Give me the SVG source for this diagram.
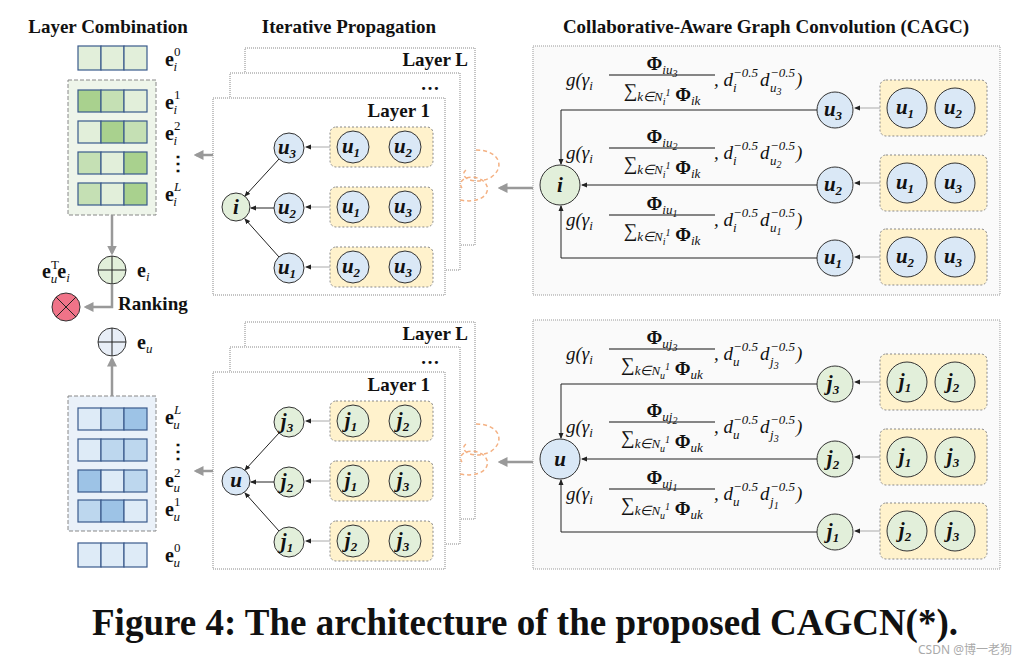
<svg xmlns="http://www.w3.org/2000/svg" width="1025" height="657" viewBox="0 0 1025 657">
<style>
.t{font-family:"Liberation Serif",serif;font-weight:bold;font-size:19px;fill:#111}
.f{font-family:"Liberation Serif",serif;font-style:italic;font-size:19px;fill:#111}
.s{font-size:13px}
.ss{font-size:10px}
.nl{font-family:"Liberation Serif",serif;font-style:italic;font-weight:bold;font-size:21px;text-anchor:middle;fill:#111}
.el{font-family:"Liberation Serif",serif;font-weight:bold;font-size:20px;fill:#111}
.gn{fill:#e2efda;stroke:#333;stroke-width:1}
.bn{fill:#dae8f6;stroke:#333;stroke-width:1}
.yb{fill:#fff2cc;stroke:#888;stroke-width:1;stroke-dasharray:2 2}
.fr{fill:#fff;stroke:#888;stroke-width:1;stroke-dasharray:1 1}
.pn{fill:#fafafa;stroke:#999;stroke-width:1;stroke-dasharray:1 1}
.bar{stroke:#3a5a8c;stroke-width:1.2}
.L{fill:#e2efda}.M{fill:#c5e0b4}.D{fill:#a9d18e}
.l{fill:#deebf7}.m{fill:#bdd7ee}.d{fill:#9dc3e6}
.k{stroke:#222;stroke-width:1;fill:none}
.g{stroke:#999;stroke-width:2.5;fill:none}
.gt{stroke:#aaa;stroke-width:1;fill:none}
.or{stroke:#f4b183;stroke-width:1.5;stroke-dasharray:4 3;fill:none}
.sup{font-size:13px;font-weight:normal}
.sub{font-size:13px;font-weight:normal;font-style:italic}
</style>
<defs>
<marker id="ak" markerWidth="6" markerHeight="6" refX="5" refY="3" orient="auto"><path d="M0,0.5L6,3L0,5.5z" fill="#222"/></marker>
<marker id="ag" markerWidth="4" markerHeight="4" refX="3" refY="2" orient="auto"><path d="M0,0L4,2L0,4z" fill="#999"/></marker>
</defs>
<rect width="1025" height="657" fill="#fff"/>
<text class="t" x="108" y="33" text-anchor="middle">Layer Combination</text>
<text class="t" x="349" y="33" text-anchor="middle">Iterative Propagation</text>
<text class="t" x="766" y="33" text-anchor="middle">Collaborative-Aware Graph Convolution (CAGC)</text>

<g id="ei-bars">
<rect x="78" y="46" width="23" height="24" class="bar L"/><rect x="101" y="46" width="23" height="24" class="bar L"/><rect x="124" y="46" width="23" height="24" class="bar L"/>
<rect x="68" y="80" width="88" height="135" fill="#eef5ea" stroke="#888" stroke-dasharray="4 2"/>
<rect x="78" y="90" width="23" height="22" class="bar D"/><rect x="101" y="90" width="23" height="22" class="bar M"/><rect x="124" y="90" width="23" height="22" class="bar L"/>
<rect x="78" y="121" width="23" height="22" class="bar L"/><rect x="101" y="121" width="23" height="22" class="bar D"/><rect x="124" y="121" width="23" height="22" class="bar M"/>
<rect x="78" y="152" width="23" height="22" class="bar M"/><rect x="101" y="152" width="23" height="22" class="bar L"/><rect x="124" y="152" width="23" height="22" class="bar D"/>
<rect x="78" y="183" width="23" height="22" class="bar M"/><rect x="101" y="183" width="23" height="22" class="bar L"/><rect x="124" y="183" width="23" height="22" class="bar D"/>
<text class="el" x="165" y="66">e<tspan class="sup" dx="0" dy="-10">0</tspan><tspan class="sub" dx="-7" dy="15">i</tspan></text>
<text class="el" x="165" y="109">e<tspan class="sup" dy="-10">1</tspan><tspan class="sub" dx="-7" dy="15">i</tspan></text>
<text class="el" x="165" y="140">e<tspan class="sup" dy="-10">2</tspan><tspan class="sub" dx="-7" dy="15">i</tspan></text>
<text class="el" x="168" y="170">⋮</text>
<text class="el" x="165" y="201">e<tspan class="sub" dy="-10">L</tspan><tspan class="sub" dx="-8" dy="15">i</tspan></text>
</g>
<g id="eu-bars">
<rect x="68" y="396" width="88" height="135" fill="#eaf1f9" stroke="#888" stroke-dasharray="4 2"/>
<rect x="78" y="408" width="23" height="22" class="bar l"/><rect x="101" y="408" width="23" height="22" class="bar m"/><rect x="124" y="408" width="23" height="22" class="bar d"/>
<rect x="78" y="439" width="23" height="22" class="bar l"/><rect x="101" y="439" width="23" height="22" class="bar m"/><rect x="124" y="439" width="23" height="22" class="bar m"/>
<rect x="78" y="470" width="23" height="22" class="bar d"/><rect x="101" y="470" width="23" height="22" class="bar l"/><rect x="124" y="470" width="23" height="22" class="bar m"/>
<rect x="78" y="500" width="23" height="22" class="bar m"/><rect x="101" y="500" width="23" height="22" class="bar d"/><rect x="124" y="500" width="23" height="22" class="bar l"/>
<rect x="78" y="543" width="23" height="24" class="bar l"/><rect x="101" y="543" width="23" height="24" class="bar l"/><rect x="124" y="543" width="23" height="24" class="bar l"/>
<text class="el" x="165" y="424">e<tspan class="sub" dy="-10">L</tspan><tspan class="sub" dx="-8" dy="15">u</tspan></text>
<text class="el" x="168" y="458">⋮</text>
<text class="el" x="165" y="487">e<tspan class="sup" dy="-10">2</tspan><tspan class="sub" dx="-7" dy="15">u</tspan></text>
<text class="el" x="165" y="516">e<tspan class="sup" dy="-10">1</tspan><tspan class="sub" dx="-7" dy="15">u</tspan></text>
<text class="el" x="165" y="562">e<tspan class="sup" dy="-10">0</tspan><tspan class="sub" dx="-7" dy="15">u</tspan></text>
</g>
<g id="sum-i"><circle cx="112" cy="270" r="14" fill="#e2efda" stroke="#333"/><path d="M98,270H126M112,256V284" class="k"/><text class="el" x="137" y="277">e<tspan class="sub" dy="4">i</tspan></text></g>
<g id="sum-u"><circle cx="112" cy="342" r="14" fill="#e8eef7" stroke="#333"/><path d="M98,342H126M112,328V356" class="k"/><text class="el" x="137" y="349">e<tspan class="sub" dy="4">u</tspan></text></g>
<g id="rank"><circle cx="66" cy="307" r="14" fill="#f07388" stroke="#333"/><path d="M56,297L76,317M76,297L56,317" class="k"/>
<text class="el" x="42" y="278">e<tspan class="sup" dy="-9">T</tspan><tspan class="sub" dx="-8" dy="14">u</tspan><tspan dy="-5">e</tspan><tspan class="sub" dy="4">i</tspan></text>
<text class="t" x="118" y="310">Ranking</text></g>

<g id="prop-top">
<rect x="245" y="48" width="230" height="197" class="fr" fill="#fcfcfc"/>
<rect x="230" y="73" width="230" height="197" class="fr" fill="#fcfcfc"/>
<rect x="213" y="98" width="232" height="197" class="fr"/>
<text class="t" x="468" y="66" text-anchor="end">Layer L</text>
<text class="t" x="430" y="90" text-anchor="middle">…</text>
<text class="t" x="430" y="117" text-anchor="end">Layer 1</text>
<rect x="330" y="127" width="103" height="40" rx="6" class="yb"/>
<rect x="330" y="187" width="103" height="40" rx="6" class="yb"/>
<rect x="330" y="247" width="103" height="40" rx="6" class="yb"/>
<circle cx="236" cy="207" r="14" class="gn"/><text class="nl" x="236" y="214">i</text>
<circle cx="289" cy="148" r="15" class="bn"/><text class="nl" x="287" y="154">u<tspan class="s" dy="4">3</tspan></text>
<circle cx="289" cy="208" r="15" class="bn"/><text class="nl" x="287" y="214">u<tspan class="s" dy="4">2</tspan></text>
<circle cx="289" cy="268" r="15" class="bn"/><text class="nl" x="287" y="274">u<tspan class="s" dy="4">1</tspan></text>
<circle cx="353" cy="147" r="16" class="bn"/><text class="nl" x="351" y="153">u<tspan class="s" dy="4">1</tspan></text>
<circle cx="405" cy="147" r="16" class="bn"/><text class="nl" x="403" y="153">u<tspan class="s" dy="4">2</tspan></text>
<circle cx="353" cy="207" r="16" class="bn"/><text class="nl" x="351" y="213">u<tspan class="s" dy="4">1</tspan></text>
<circle cx="405" cy="207" r="16" class="bn"/><text class="nl" x="403" y="213">u<tspan class="s" dy="4">3</tspan></text>
<circle cx="353" cy="267" r="16" class="bn"/><text class="nl" x="351" y="273">u<tspan class="s" dy="4">2</tspan></text>
<circle cx="405" cy="267" r="16" class="bn"/><text class="nl" x="403" y="273">u<tspan class="s" dy="4">3</tspan></text>
</g>
<g id="prop-bottom">
<rect x="245" y="322" width="230" height="197" class="fr" fill="#fcfcfc"/>
<rect x="230" y="347" width="230" height="197" class="fr" fill="#fcfcfc"/>
<rect x="213" y="372" width="232" height="197" class="fr"/>
<text class="t" x="468" y="340" text-anchor="end">Layer L</text>
<text class="t" x="430" y="364" text-anchor="middle">…</text>
<text class="t" x="430" y="391" text-anchor="end">Layer 1</text>
<rect x="330" y="401" width="103" height="40" rx="6" class="yb"/>
<rect x="330" y="461" width="103" height="40" rx="6" class="yb"/>
<rect x="330" y="521" width="103" height="40" rx="6" class="yb"/>
<circle cx="236" cy="481" r="14" class="bn"/><text class="nl" x="236" y="487">u</text>
<circle cx="289" cy="422" r="15" class="gn"/><text class="nl" x="287" y="428">j<tspan class="s" dy="4">3</tspan></text>
<circle cx="289" cy="482" r="15" class="gn"/><text class="nl" x="287" y="488">j<tspan class="s" dy="4">2</tspan></text>
<circle cx="289" cy="542" r="15" class="gn"/><text class="nl" x="287" y="548">j<tspan class="s" dy="4">1</tspan></text>
<circle cx="353" cy="421" r="16" class="gn"/><text class="nl" x="351" y="427">j<tspan class="s" dy="4">1</tspan></text>
<circle cx="405" cy="421" r="16" class="gn"/><text class="nl" x="403" y="427">j<tspan class="s" dy="4">2</tspan></text>
<circle cx="353" cy="481" r="16" class="gn"/><text class="nl" x="351" y="487">j<tspan class="s" dy="4">1</tspan></text>
<circle cx="405" cy="481" r="16" class="gn"/><text class="nl" x="403" y="487">j<tspan class="s" dy="4">3</tspan></text>
<circle cx="353" cy="541" r="16" class="gn"/><text class="nl" x="351" y="547">j<tspan class="s" dy="4">2</tspan></text>
<circle cx="405" cy="541" r="16" class="gn"/><text class="nl" x="403" y="547">j<tspan class="s" dy="4">3</tspan></text>
</g>

<g id="cagc-top">
<rect x="533" y="46" width="467" height="249" class="pn"/>
<rect x="880" y="80" width="107" height="56" rx="6" class="yb"/>
<rect x="880" y="155" width="107" height="56" rx="6" class="yb"/>
<rect x="880" y="229" width="107" height="56" rx="6" class="yb"/>
<circle cx="560" cy="185" r="20" class="gn"/><text class="nl" x="560" y="192">i</text>
<circle cx="835" cy="110" r="18" class="bn"/><text class="nl" x="833" y="116">u<tspan class="s" dy="4">3</tspan></text>
<circle cx="835" cy="185" r="18" class="bn"/><text class="nl" x="833" y="191">u<tspan class="s" dy="4">2</tspan></text>
<circle cx="835" cy="258" r="18" class="bn"/><text class="nl" x="833" y="264">u<tspan class="s" dy="4">1</tspan></text>
<circle cx="907" cy="108" r="20" class="bn"/><text class="nl" x="905" y="114">u<tspan class="s" dy="4">1</tspan></text>
<circle cx="955" cy="108" r="20" class="bn"/><text class="nl" x="953" y="114">u<tspan class="s" dy="4">2</tspan></text>
<circle cx="907" cy="183" r="20" class="bn"/><text class="nl" x="905" y="189">u<tspan class="s" dy="4">1</tspan></text>
<circle cx="955" cy="183" r="20" class="bn"/><text class="nl" x="953" y="189">u<tspan class="s" dy="4">3</tspan></text>
<circle cx="907" cy="257" r="20" class="bn"/><text class="nl" x="905" y="263">u<tspan class="s" dy="4">2</tspan></text>
<circle cx="955" cy="257" r="20" class="bn"/><text class="nl" x="953" y="263">u<tspan class="s" dy="4">3</tspan></text>
</g>
<g id="cagc-bottom">
<rect x="533" y="320" width="467" height="249" class="pn"/>
<rect x="880" y="354" width="107" height="56" rx="6" class="yb"/>
<rect x="880" y="429" width="107" height="56" rx="6" class="yb"/>
<rect x="880" y="503" width="107" height="56" rx="6" class="yb"/>
<circle cx="560" cy="459" r="20" class="bn"/><text class="nl" x="560" y="466">u</text>
<circle cx="835" cy="384" r="18" class="gn"/><text class="nl" x="833" y="390">j<tspan class="s" dy="4">3</tspan></text>
<circle cx="835" cy="459" r="18" class="gn"/><text class="nl" x="833" y="465">j<tspan class="s" dy="4">2</tspan></text>
<circle cx="835" cy="532" r="18" class="gn"/><text class="nl" x="833" y="538">j<tspan class="s" dy="4">1</tspan></text>
<circle cx="907" cy="382" r="20" class="gn"/><text class="nl" x="905" y="388">j<tspan class="s" dy="4">1</tspan></text>
<circle cx="955" cy="382" r="20" class="gn"/><text class="nl" x="953" y="388">j<tspan class="s" dy="4">2</tspan></text>
<circle cx="907" cy="457" r="20" class="gn"/><text class="nl" x="905" y="463">j<tspan class="s" dy="4">1</tspan></text>
<circle cx="955" cy="457" r="20" class="gn"/><text class="nl" x="953" y="463">j<tspan class="s" dy="4">3</tspan></text>
<circle cx="907" cy="531" r="20" class="gn"/><text class="nl" x="905" y="537">j<tspan class="s" dy="4">2</tspan></text>
<circle cx="955" cy="531" r="20" class="gn"/><text class="nl" x="953" y="537">j<tspan class="s" dy="4">3</tspan></text>
</g>

<g id="formulas" class="f">
<text x="566" y="86">g(γ<tspan class="s" dy="4">i</tspan></text>
<text x="662" y="70" text-anchor="middle"><tspan font-weight="bold" font-style="normal">Φ</tspan><tspan class="s" dy="4">iu</tspan><tspan class="ss" dy="3">3</tspan></text>
<line x1="609" y1="75" x2="715" y2="75" stroke="#111"/>
<text x="662" y="97" text-anchor="middle">∑<tspan class="s" dy="4">k∈N</tspan><tspan class="ss" dy="4">i</tspan><tspan class="ss" dy="-9">1</tspan><tspan dy="5" font-weight="bold" font-style="normal"> Φ</tspan><tspan class="s" dy="4">ik</tspan></text>
<text x="714" y="86">, d</text><text class="s" x="733" y="77">−0.5</text><text class="s" x="733" y="92">i</text>
<text x="760" y="86">d</text><text class="s" x="770" y="77">−0.5</text><text class="s" x="770" y="92">u<tspan class="ss" dy="3">3</tspan></text><text x="796" y="86">)</text>

<text x="566" y="159">g(γ<tspan class="s" dy="4">i</tspan></text>
<text x="662" y="143" text-anchor="middle"><tspan font-weight="bold" font-style="normal">Φ</tspan><tspan class="s" dy="4">iu</tspan><tspan class="ss" dy="3">2</tspan></text>
<line x1="609" y1="148" x2="715" y2="148" stroke="#111"/>
<text x="662" y="170" text-anchor="middle">∑<tspan class="s" dy="4">k∈N</tspan><tspan class="ss" dy="4">i</tspan><tspan class="ss" dy="-9">1</tspan><tspan dy="5" font-weight="bold" font-style="normal"> Φ</tspan><tspan class="s" dy="4">ik</tspan></text>
<text x="714" y="159">, d</text><text class="s" x="733" y="150">−0.5</text><text class="s" x="733" y="165">i</text>
<text x="760" y="159">d</text><text class="s" x="770" y="150">−0.5</text><text class="s" x="770" y="165">u<tspan class="ss" dy="3">2</tspan></text><text x="796" y="159">)</text>

<text x="566" y="226">g(γ<tspan class="s" dy="4">i</tspan></text>
<text x="662" y="210" text-anchor="middle"><tspan font-weight="bold" font-style="normal">Φ</tspan><tspan class="s" dy="4">iu</tspan><tspan class="ss" dy="3">1</tspan></text>
<line x1="609" y1="215" x2="715" y2="215" stroke="#111"/>
<text x="662" y="237" text-anchor="middle">∑<tspan class="s" dy="4">k∈N</tspan><tspan class="ss" dy="4">i</tspan><tspan class="ss" dy="-9">1</tspan><tspan dy="5" font-weight="bold" font-style="normal"> Φ</tspan><tspan class="s" dy="4">ik</tspan></text>
<text x="714" y="226">, d</text><text class="s" x="733" y="217">−0.5</text><text class="s" x="733" y="232">i</text>
<text x="760" y="226">d</text><text class="s" x="770" y="217">−0.5</text><text class="s" x="770" y="232">u<tspan class="ss" dy="3">1</tspan></text><text x="796" y="226">)</text>

<text x="566" y="360">g(γ<tspan class="s" dy="4">i</tspan></text>
<text x="662" y="344" text-anchor="middle"><tspan font-weight="bold" font-style="normal">Φ</tspan><tspan class="s" dy="4">uj</tspan><tspan class="ss" dy="3">3</tspan></text>
<line x1="609" y1="349" x2="715" y2="349" stroke="#111"/>
<text x="662" y="371" text-anchor="middle">∑<tspan class="s" dy="4">k∈N</tspan><tspan class="ss" dy="4">u</tspan><tspan class="ss" dy="-9">1</tspan><tspan dy="5" font-weight="bold" font-style="normal"> Φ</tspan><tspan class="s" dy="4">uk</tspan></text>
<text x="714" y="360">, d</text><text class="s" x="733" y="351">−0.5</text><text class="s" x="733" y="366">u</text>
<text x="760" y="360">d</text><text class="s" x="770" y="351">−0.5</text><text class="s" x="770" y="366">j<tspan class="ss" dy="3">3</tspan></text><text x="796" y="360">)</text>

<text x="566" y="433">g(γ<tspan class="s" dy="4">i</tspan></text>
<text x="662" y="417" text-anchor="middle"><tspan font-weight="bold" font-style="normal">Φ</tspan><tspan class="s" dy="4">uj</tspan><tspan class="ss" dy="3">2</tspan></text>
<line x1="609" y1="422" x2="715" y2="422" stroke="#111"/>
<text x="662" y="444" text-anchor="middle">∑<tspan class="s" dy="4">k∈N</tspan><tspan class="ss" dy="4">u</tspan><tspan class="ss" dy="-9">1</tspan><tspan dy="5" font-weight="bold" font-style="normal"> Φ</tspan><tspan class="s" dy="4">uk</tspan></text>
<text x="714" y="433">, d</text><text class="s" x="733" y="424">−0.5</text><text class="s" x="733" y="439">u</text>
<text x="760" y="433">d</text><text class="s" x="770" y="424">−0.5</text><text class="s" x="770" y="439">j<tspan class="ss" dy="3">3</tspan></text><text x="796" y="433">)</text>

<text x="566" y="500">g(γ<tspan class="s" dy="4">i</tspan></text>
<text x="662" y="484" text-anchor="middle"><tspan font-weight="bold" font-style="normal">Φ</tspan><tspan class="s" dy="4">uj</tspan><tspan class="ss" dy="3">1</tspan></text>
<line x1="609" y1="489" x2="715" y2="489" stroke="#111"/>
<text x="662" y="511" text-anchor="middle">∑<tspan class="s" dy="4">k∈N</tspan><tspan class="ss" dy="4">u</tspan><tspan class="ss" dy="-9">1</tspan><tspan dy="5" font-weight="bold" font-style="normal"> Φ</tspan><tspan class="s" dy="4">uk</tspan></text>
<text x="714" y="500">, d</text><text class="s" x="733" y="491">−0.5</text><text class="s" x="733" y="506">u</text>
<text x="760" y="500">d</text><text class="s" x="770" y="491">−0.5</text><text class="s" x="770" y="506">j<tspan class="ss" dy="3">1</tspan></text><text x="796" y="500">)</text>
</g>

<g id="connectors">
<path d="M112,215V253" class="g" marker-end="url(#ag)"/>
<path d="M112,284V307H86" class="g" marker-end="url(#ag)"/>
<path d="M112,396V359" class="g" marker-end="url(#ag)"/>
<path d="M213,155H196" class="g" marker-end="url(#ag)"/>
<path d="M213,471H196" class="g" marker-end="url(#ag)"/>
<path d="M533,188H500" class="g" marker-end="url(#ag)"/>
<path d="M533,462H500" class="g" marker-end="url(#ag)"/>
<path d="M476,150C500,150 506,168 490,178C472,186 458,176 466,170" class="or"/>
<path d="M460,200C486,205 494,188 482,180C470,173 456,180 462,188" class="or"/>
<path d="M476,424C500,424 506,442 490,452C472,460 458,450 466,444" class="or"/>
<path d="M460,474C486,479 494,462 482,454C470,447 456,454 462,462" class="or"/>
<path d="M279,159L245,196" class="k" marker-end="url(#ak)"/>
<path d="M274,208H251" class="k" marker-end="url(#ak)"/>
<path d="M279,257L245,219" class="k" marker-end="url(#ak)"/>
<path d="M330,147H306" class="gt" marker-end="url(#ak)"/>
<path d="M330,207H306" class="gt" marker-end="url(#ak)"/>
<path d="M330,267H306" class="gt" marker-end="url(#ak)"/>
<path d="M279,433L245,470" class="k" marker-end="url(#ak)"/>
<path d="M274,482H251" class="k" marker-end="url(#ak)"/>
<path d="M279,531L245,493" class="k" marker-end="url(#ak)"/>
<path d="M330,421H306" class="gt" marker-end="url(#ak)"/>
<path d="M330,481H306" class="gt" marker-end="url(#ak)"/>
<path d="M330,541H306" class="gt" marker-end="url(#ak)"/>
<path d="M817,110H561V164" class="k" marker-end="url(#ak)"/>
<path d="M817,185H582" class="k" marker-end="url(#ak)"/>
<path d="M817,258H561V206" class="k" marker-end="url(#ak)"/>
<path d="M880,108H855" class="gt" marker-end="url(#ak)"/>
<path d="M880,183H855" class="gt" marker-end="url(#ak)"/>
<path d="M880,257H855" class="gt" marker-end="url(#ak)"/>
<path d="M817,384H561V438" class="k" marker-end="url(#ak)"/>
<path d="M817,459H582" class="k" marker-end="url(#ak)"/>
<path d="M817,532H561V480" class="k" marker-end="url(#ak)"/>
<path d="M880,382H855" class="gt" marker-end="url(#ak)"/>
<path d="M880,457H855" class="gt" marker-end="url(#ak)"/>
<path d="M880,531H855" class="gt" marker-end="url(#ak)"/>
</g>

<text x="525" y="635" text-anchor="middle" font-family="Liberation Serif, serif" font-weight="bold" font-size="37" fill="#111">Figure 4: The architecture of the proposed CAGCN(*).</text>
<text x="1012" y="654" text-anchor="end" font-family="Noto Sans, Noto Sans CJK SC, sans-serif" font-size="12" fill="#aaa">CSDN @博一老狗</text>
</svg>
